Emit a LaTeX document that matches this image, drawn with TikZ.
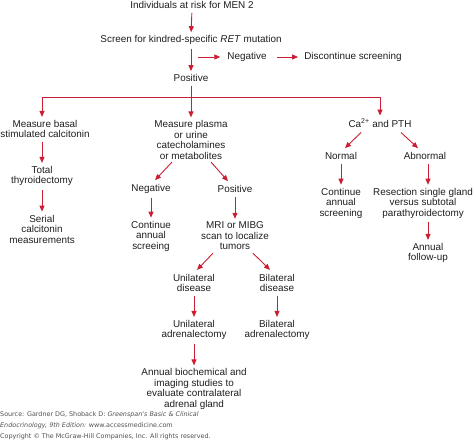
\documentclass[tikz,border=0pt]{standalone}
\usepackage{fontspec}
\setmainfont{Liberation Sans}
\newfontfamily\srcfont{DejaVu Sans}
\usepackage{tikz}
\usetikzlibrary{arrows.meta}
\definecolor{flowred}{RGB}{204,30,50}
\definecolor{flowtext}{RGB}{30,30,30}
\definecolor{srcgray}{RGB}{80,80,80}
\tikzset{
  lbl/.style={align=center, inner sep=0pt, text=flowtext, font=\fontsize{9.9}{10.5}\selectfont},
  src/.style={align=left, inner sep=0pt, text=srcgray, font=\srcfont\fontsize{6.4}{11}\selectfont},
  arr/.style={draw=flowred, line width=0.9pt, -{Triangle[length=6pt,width=5pt]}, shorten <=4pt, shorten >=3pt},
  diag/.style={arr, shorten <=0pt, shorten >=0pt},
  ln/.style={draw=flowred, line width=0.9pt, shorten <=4pt},
}
\newcommand{\lablbox}[4]{\node[lbl] (#1) at ( #2 , #3 ) {#4};}
\newcommand{\vlink}[2]{\draw[arr] (#1.south) -- (#2.north);}

\begin{document}
\begin{tikzpicture}[x=1pt,y=-1pt]
        \useasboundingbox (0,0) rectangle (474,444);

        \lablbox{risk}{192}{5}{Individuals at risk for MEN 2}
        \lablbox{screen}{191}{40}{Screen for kindred-specific \textit{RET} mutation}
        \lablbox{neg}{247}{57}{Negative}
        \lablbox{discont}{353}{57}{Discontinue screening}
        \lablbox{pos}{191}{78}{Positive}
        \coordinate (fork) at (191,57);
        \coordinate (split) at (191,97);

        \lablbox{basal}{45}{129}{Measure basal\\stimulated calcitonin}
        \lablbox{thyroid}{42}{176}{Total\\thyroidectomy}
        \lablbox{serial}{42}{229}{Serial\\calcitonin\\measurements}

        \lablbox{plasma}{191}{140}{Measure plasma\\or urine\\catecholamines\\or metabolites}
        \lablbox{cneg}{151}{189}{Negative}
        \lablbox{cpos}{235}{189}{Positive}
        \lablbox{contA}{151}{236}{Continue\\annual\\screeing}
        \lablbox{mri}{235}{236}{MRI or MIBG\\scan to localize\\tumors}
        \lablbox{uni}{194}{283}{Unilateral\\disease}
        \lablbox{bil}{277}{283}{Bilateral\\disease}
        \lablbox{uniadr}{194}{330}{Unilateral\\adrenalectomy}
        \lablbox{biladr}{277}{330}{Bilateral\\adrenalectomy}
        \lablbox{annual}{194}{389}{Annual biochemical and\\imaging studies to\\evaluate contralateral\\adrenal gland}

        \lablbox{ca}{380}{123}{Ca\textsuperscript{2+} and PTH}
        \lablbox{normal}{341}{156}{Normal}
        \lablbox{abnormal}{425}{156}{Abnormal}
        \lablbox{contB}{341}{203}{Continue\\annual\\screening}
        \lablbox{resect}{423}{203}{Resection single gland\\versus subtotal\\parathyroidectomy}
        \lablbox{follow}{428}{253}{Annual\\follow-up}

        \node[src, anchor=north west] (source) at (0,411.5) {Source: Gardner DG, Shoback D: \textit{Greenspan's Basic \& Clinical}\\\textit{Endocrinology, 9th Edition:} www.accessmedicine.com\\Copyright © The McGraw-Hill Companies, Inc. All rights reserved.};

        \vlink{risk}{screen}
        \vlink{screen}{pos}
        \draw[arr, shorten <=7pt, shorten >=7pt] (fork) -- (fork -| neg.west);
        \draw[arr, shorten <=10pt, shorten >=6pt] (neg.east) -- (discont.west);

        \draw[ln] (pos.south) -- (split);
        \draw[arr, shorten <=0pt] (split) -| (basal.north -| thyroid.north);
        \draw[arr, shorten <=0pt] (split) -- (plasma.north);
        \draw[arr, shorten <=0pt] (split) -| (ca.north);

        \draw[arr] (basal.south -| thyroid.north) -- (thyroid.north);
        \vlink{thyroid}{serial}

        \draw[diag] ([xshift=-19pt,yshift=-2.5pt]plasma.south) -- ([xshift=4pt,yshift=4pt]cneg.north);
        \draw[diag] ([xshift=20pt,yshift=-2.5pt]plasma.south) -- ([xshift=-7pt,yshift=4pt]cpos.north);
        \vlink{cneg}{contA}
        \vlink{cpos}{mri}
        \draw[diag] ([xshift=-22pt,yshift=-3pt]mri.south) -- ([xshift=3pt,yshift=4pt]uni.north);
        \draw[diag] ([xshift=18pt,yshift=-3pt]mri.south) -- ([xshift=-7pt,yshift=4pt]bil.north);
        \vlink{uni}{uniadr}
        \vlink{bil}{biladr}
        \vlink{uniadr}{annual}

        \draw[diag] ([xshift=-19pt,yshift=-5pt]ca.south) -- ([xshift=4pt,yshift=4pt]normal.north);
        \draw[diag] ([xshift=21pt,yshift=-5pt]ca.south) -- ([xshift=-7pt,yshift=4pt]abnormal.north);
        \vlink{normal}{contB}
        \draw[arr] (abnormal.south -| follow.north) -- (resect.north -| follow.north);
        \draw[arr] (resect.south -| follow.north) -- (follow.north);
\end{tikzpicture}
\end{document}
